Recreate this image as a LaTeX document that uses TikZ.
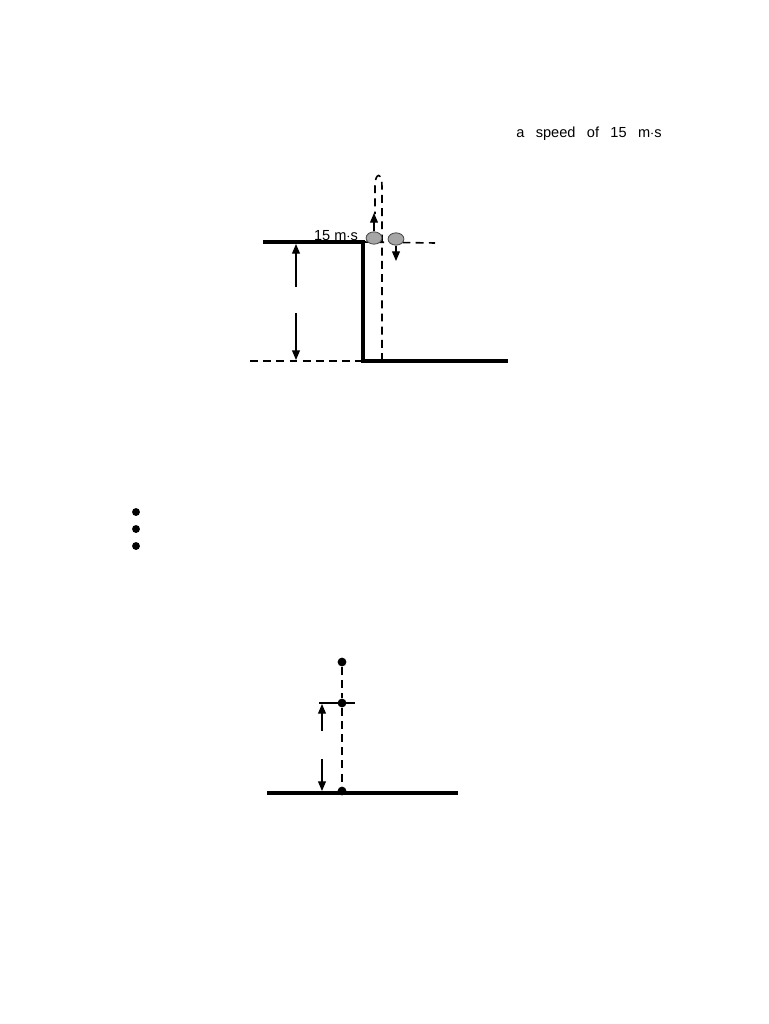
\documentclass[tikz,border=0pt]{standalone}
\usepackage{fontspec}
\setmainfont{Liberation Sans}
\usetikzlibrary{arrows.meta,shapes.geometric}
\begin{document}
\begin{tikzpicture}[x=0.02cm,y=-0.02cm,
  thick line/.style={line width=1.8pt},
  dash line/.style={line width=0.9pt, dash pattern=on 4.5pt off 3pt},
  arr/.style={-{Triangle[length=5.5pt,width=4.5pt]}, line width=0.7pt},
  ball/.style={ellipse, draw=black!70, fill=gray!70, minimum width=9pt, minimum height=7pt, inner sep=0pt, line width=0.5pt},
  dot/.style={circle, fill, inner sep=0pt, minimum size=4.5pt}]
\useasboundingbox (0,0) rectangle (768,1024);
\node[font=\fontsize{8.3}{10}\selectfont] (speed) at (589,134) {a\hspace{0.78em}speed\hspace{0.78em}of\hspace{0.78em}15\hspace{0.78em}m$\cdot$s};
% cliff
\coordinate (ctl) at (263,242);
\coordinate (ctr) at (363,242);
\coordinate (cbot) at (363,361);
\coordinate (gr) at (508,361);
\coordinate (gl) at (250,361);
\draw[thick line] (ctl) -- (ctr) -- (cbot) -- (gr);
\draw[dash line] (gl) -- (cbot);
\draw[dash line] (ctr) -- (435,243);
\node[font=\fontsize{8.3}{10}\selectfont, anchor=base] (v0) at (336,240) {15 m$\cdot$s};
% height
\coordinate (h1) at (296,287);
\coordinate (h2) at (296,313);
\draw[arr] (h1) -- (296,244);
\draw[arr] (h2) -- (296,360);
% ball path
\coordinate (pb) at (382,361);
\draw[dash line] (pb) -- (382,186) .. controls (382,172) and (375,172) .. (375,186) -- (375,214);
\node[ball] (b1) at (374,238) {};
\node[ball] (b2) at (396,239) {};
\draw[arr] (b1.north) -- (374,213);
\draw[arr] (b2.south) -- (396,261);
% bullets
\foreach \y/\n in {512/1,529/2,546/3}
  \node[dot] (bul\n) at (136,\y) {};
% second figure
\coordinate (g2l) at (267,793);
\coordinate (g2r) at (458,793);
\draw[thick line] (g2l) -- (g2r);
\node[dot, minimum size=5pt] (p1) at (342,662) {};
\node[dot, minimum size=5pt] (p2) at (342,703) {};
\node[dot, minimum size=5pt] (p3) at (342,791) {};
\draw[dash line] (p1) -- (p2) -- (p3);
\coordinate (t1) at (319,703);
\coordinate (t2) at (355,703);
\draw[line width=0.7pt] (t1) -- (t2);
\draw[arr] (322,731) -- (322,704);
\draw[arr] (322,759) -- (322,791);
\end{tikzpicture}
\end{document}
